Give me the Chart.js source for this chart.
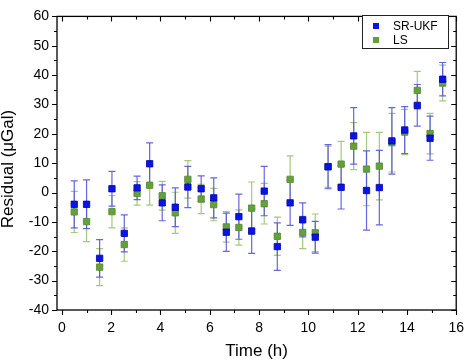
<!DOCTYPE html>
<html>
<head>
<meta charset="utf-8">
<script src="https://cdn.jsdelivr.net/npm/chart.js@4/dist/chart.umd.min.js"></script>
<style>
html,body{margin:0;padding:0;background:#fff;}
#wrap{width:474px;height:363px;position:relative;}
</style>
</head>
<body>
<div id="wrap"><canvas id="c" width="474" height="363"></canvas></div>
<script>
const times = [0.5,1.0,1.53,2.03,2.53,3.05,3.56,4.07,4.6,5.11,5.65,6.16,6.67,7.18,7.7,8.21,8.74,9.26,9.77,10.28,10.8,11.33,11.84,12.36,12.88,13.39,13.91,14.42,14.94,15.45];
const srukf = [-4.0,-4.0,-22.4,1.3,-13.9,1.6,9.8,-3.5,-5.0,1.9,1.3,-1.8,-13.5,-8.2,-13.1,0.5,-18.4,-3.5,-9.3,-15.2,8.8,1.8,19.3,0.7,1.7,17.6,21.3,29.7,18.5,38.6];
const srukfErr = [8.0,8.3,6.4,5.9,6.3,4.0,7.1,6.1,6.6,7.0,4.4,6.8,6.5,7.7,7.6,8.4,8.1,7.7,5.8,5.4,7.5,7.4,9.6,13.5,12.7,11.3,8.0,7.1,7.5,5.7];
const ls = [-6.6,-9.9,-25.4,-6.5,-17.7,-0.3,2.5,-1.1,-6.9,4.5,-2.2,-4.1,-11.7,-11.9,-5.3,-3.8,-14.9,4.5,-13.6,-13.7,8.8,9.7,15.8,8.0,9.0,17.0,20.6,34.8,20.1,37.3];
const lsErr = [7.0,6.8,6.3,5.5,5.7,4.0,6.8,4.9,7.0,6.4,5.0,5.5,5.2,6.0,8.9,6.9,6.5,8.0,5.5,6.4,7.0,7.7,8.0,12.5,11.5,10.0,7.7,6.5,6.9,6.1];
const xTicks = [0,2,4,6,8,10,12,14,16];
const yTicks = [-40,-30,-20,-10,0,10,20,30,40,50,60];
const seriesNames = ['SR-UKF','LS'];
const xTitle = 'Time (h)';
const yTitle = 'Residual (μGal)';

const BLUE = '#0a14e6', GREEN = '#66a03a';
const BLUE_ERR = 'rgba(75,75,220,0.85)', GREEN_ERR = 'rgba(150,190,100,0.85)';
const FONT = 'Liberation Sans, Arial, sans-serif';

function pts(ys){ return times.map((t,i)=>({x:t,y:ys[i]})); }

const errPlugin = {
  id:'errbars',
  beforeDatasetsDraw(chart){
    const ctx = chart.ctx, xs = chart.scales.x, ys = chart.scales.y;
    const sets = [[ls, lsErr, GREEN_ERR],[srukf, srukfErr, BLUE_ERR]];
    ctx.save();
    ctx.lineWidth = 1.2;
    for (const [vals, errs, col] of sets){
      ctx.strokeStyle = col;
      for (let i=0;i<times.length;i++){
        const px = xs.getPixelForValue(times[i]);
        const top = ys.getPixelForValue(vals[i]+errs[i]);
        const bot = ys.getPixelForValue(vals[i]-errs[i]);
        ctx.beginPath();
        ctx.moveTo(px, top); ctx.lineTo(px, bot);
        ctx.moveTo(px-3.5, top); ctx.lineTo(px+3.5, top);
        ctx.moveTo(px-3.5, bot); ctx.lineTo(px+3.5, bot);
        ctx.stroke();
      }
    }
    ctx.restore();
  },
  afterDraw(chart){
    const ctx = chart.ctx, xs = chart.scales.x, ys = chart.scales.y;
    const a = chart.chartArea;
    ctx.save();
    ctx.strokeStyle = '#000';
    ctx.lineWidth = 1.3;
    ctx.strokeRect(a.left, a.top, a.right-a.left, a.bottom-a.top);
    ctx.beginPath();
    for (let v=0; v<=16; v+=1){
      const px = Math.round(xs.getPixelForValue(v))+0.5;
      const L = (v%2===0)?5:3;
      ctx.moveTo(px, a.bottom); ctx.lineTo(px, a.bottom+L);
      ctx.moveTo(px, a.top); ctx.lineTo(px, a.top+L);
    }
    for (let v=-40; v<=60; v+=5){
      const py = Math.round(ys.getPixelForValue(v))+0.5;
      const L = (v%10===0)?5:3;
      ctx.moveTo(a.left, py); ctx.lineTo(a.left-L, py);
      ctx.moveTo(a.right, py); ctx.lineTo(a.right-L, py);
    }
    ctx.lineWidth = 1.1;
    ctx.stroke();
    // y title
    ctx.save();
    ctx.translate(8.5, 169);
    ctx.rotate(-Math.PI/2);
    ctx.font = '17px '+FONT;
    ctx.fillStyle = '#000';
    ctx.textAlign = 'center';
    ctx.textBaseline = 'middle';
    ctx.fillText(yTitle, 0, 0);
    ctx.restore();
    // legend
    const lx=362, ly=15, lw=86, lh=33;
    ctx.fillStyle='#fff';
    ctx.fillRect(lx,ly,lw,lh);
    ctx.lineWidth=1;
    ctx.strokeStyle='#222';
    ctx.strokeRect(lx+0.5,ly+0.5,lw,lh);
    const cols=[BLUE,GREEN];
    ctx.font = '12px '+FONT;
    ctx.textBaseline='middle';
    ctx.textAlign='left';
    [26,40].forEach((yy,i)=>{
      ctx.fillStyle=cols[i];
      ctx.fillRect(373,yy-3,6,6);
      ctx.fillStyle='#000';
      ctx.fillText(seriesNames[i], 393, yy+0.5);
    });
    ctx.restore();
  }
};

new Chart(document.getElementById('c'), {
  type:'scatter',
  data:{
    datasets:[
      {label:seriesNames[0], data:pts(srukf), backgroundColor:BLUE, borderColor:'#0000b0', borderWidth:0.8, pointStyle:'rect', pointRadius:4.5, pointHoverRadius:4.5},
      {label:seriesNames[1], data:pts(ls), backgroundColor:GREEN, borderColor:'#4f8a2c', borderWidth:0.8, pointStyle:'rect', pointRadius:4.5, pointHoverRadius:4.5}
    ]
  },
  options:{
    responsive:false,
    animation:false,
    events:[],
    layout:{padding:{left:0,top:7,right:8,bottom:0}},
    plugins:{legend:{display:false}, tooltip:{enabled:false}},
    scales:{
      x:{
        type:'linear', min:-0.2, max:16,
        afterBuildTicks(s){ s.ticks = xTicks.map(v=>({value:v})); },
        afterFit(s){ s.height = 53; },
        grid:{display:false, drawTicks:false},
        border:{display:false},
        ticks:{color:'#000', padding:10, maxRotation:0, font:{family:FONT, size:14}},
        title:{display:true, text:xTitle, color:'#000', font:{family:FONT, size:17}, padding:{top:0,bottom:1}}
      },
      y:{
        type:'linear', min:-40, max:60,
        afterBuildTicks(s){ s.ticks = yTicks.map(v=>({value:v})); },
        afterFit(s){ s.width = 57; },
        grid:{display:false, drawTicks:false},
        border:{display:false},
        ticks:{color:'#000', padding:8, font:{family:FONT, size:14}},
        title:{display:false}
      }
    }
  },
  plugins:[errPlugin]
});
</script>
</body>
</html>
